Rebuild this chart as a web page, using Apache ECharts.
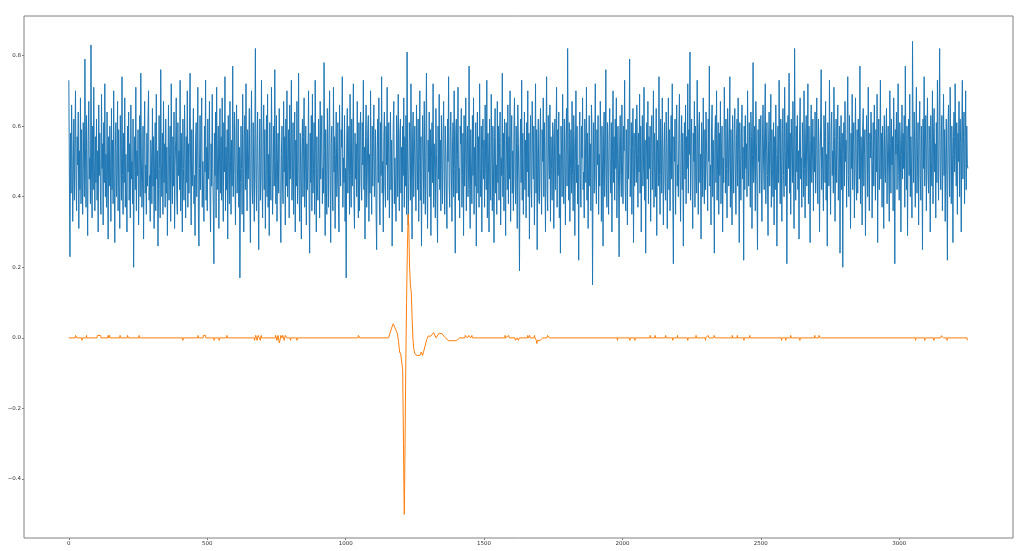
<!DOCTYPE html>
<html>
<head>
<meta charset="utf-8">
<script src="https://cdn.jsdelivr.net/npm/echarts@6/dist/echarts.min.js"></script>
<style>html,body{margin:0;padding:0;background:#fff;}#c{width:1024px;height:551px;}</style>
</head>
<body>
<div id="c"></div>
<script>
// x step between consecutive samples of the blue series
var blueStep = 2;
var blueValues = [
.73,.45,.23,.58,.41,.66,.52,.33,.47,.62,.39,.55,.70,.44,.36,.57,.49,.64,.31,.53,.42,.68,.38,.59,.46,
.35,.61,.48,.40,.79,.54,.37,.63,.43,.29,.56,.67,.45,.51,.38,.83,.47,.34,.60,.42,.71,.50,.36,.57,.44,
.62,.39,.53,.30,.66,.46,.58,.41,.35,.69,.48,.55,.32,.61,.44,.72,.40,.52,.37,.64,.47,.28,.57,.43,.60,
.49,.33,.65,.42,.56,.38,.70,.45,.27,.54,.61,.40,.47,.67,.36,.59,.43,.31,.63,.51,.39,.74,.46,.35,.58,
.44,.68,.37,.52,.41,.30,.60,.47,.64,.39,.55,.34,.66,.45,.50,.38,.62,.20,.48,.57,.42,.71,.36,.53,.46,
.59,.32,.47,.63,.40,.75,.51,.37,.44,.60,.28,.54,.67,.41,.49,.35,.58,.43,.62,.70,.39,.46,.33,.56,.52,
.38,.65,.43,.57,.31,.49,.61,.36,.69,.45,.53,.26,.42,.63,.48,.34,.76,.50,.40,.58,.35,.67,.44,.55,.37,
.62,.41,.54,.29,.47,.66,.39,.52,.60,.33,.72,.45,.38,.57,.43,.64,.31,.49,.56,.68,.40,.35,.61,.46,.53,
.42,.73,.36,.58,.45,.30,.62,.48,.39,.66,.51,.34,.57,.44,.70,.37,.55,.41,.63,.75,.47,.32,.59,.43,.50,
.65,.38,.46,.29,.56,.61,.40,.53,.71,.35,.26,.48,.63,.42,.57,.68,.37,.50,.44,.33,.60,.47,.73,.39,.54,
.36,.62,.45,.51,.67,.40,.30,.55,.43,.69,.48,.37,.21,.58,.46,.64,.34,.71,.42,.52,.60,.31,.49,.65,.41,
.57,.39,.68,.44,.33,.61,.47,.74,.36,.54,.42,.59,.28,.63,.45,.38,.67,.50,.35,.56,.43,.77,.40,.52,.64,
.46,.32,.58,.66,.41,.49,.62,.37,.54,.17,.44,.60,.48,.35,.69,.51,.30,.57,.63,.42,.72,.47,.36,.59,.45,
.53,.65,.40,.27,.56,.70,.43,.38,.61,.47,.33,.58,.82,.45,.36,.55,.64,.41,.25,.50,.62,.39,.48,.73,.44,
.34,.57,.66,.42,.59,.31,.48,.63,.40,.69,.37,.52,.29,.61,.46,.39,.71,.54,.35,.45,.60,.43,.76,.50,.38,
.63,.33,.49,.58,.41,.65,.55,.36,.27,.52,.60,.44,.38,.67,.47,.57,.32,.62,.43,.70,.40,.48,.59,.34,.66,
.45,.54,.73,.39,.47,.61,.35,.51,.64,.30,.56,.43,.67,.38,.49,.75,.41,.33,.58,.46,.28,.53,.62,.40,.57,
.68,.37,.46,.60,.32,.55,.42,.50,.70,.39,.24,.58,.44,.63,.36,.69,.41,.48,.61,.35,.73,.52,.30,.57,.43,
.39,.62,.51,.34,.67,.45,.56,.63,.38,.48,.41,.78,.53,.29,.59,.44,.35,.65,.50,.37,.58,.70,.46,.27,.55,
.60,.42,.36,.71,.47,.57,.31,.52,.64,.40,.45,.61,.38,.30,.66,.49,.43,.59,.54,.74,.37,.51,.44,.63,.33,
.48,.17,.56,.65,.41,.50,.60,.35,.69,.46,.37,.62,.43,.53,.72,.39,.31,.58,.45,.55,.40,.67,.47,.34,.61,
.36,.58,.64,.44,.39,.61,.49,.73,.42,.54,.28,.57,.66,.37,.45,.59,.63,.33,.52,.41,.70,.48,.35,.60,.43,
.55,.66,.40,.47,.59,.36,.25,.53,.62,.44,.68,.38,.32,.61,.46,.74,.41,.50,.30,.57,.64,.43,.37,.60,.49,
.71,.39,.52,.61,.34,.48,.64,.42,.56,.26,.45,.60,.67,.38,.51,.43,.33,.63,.57,.40,.69,.47,.36,.58,.62,
.41,.54,.30,.60,.46,.68,.37,.57,.43,.63,.35,.81,.49,.32,.44,.61,.55,.39,.72,.47,.28,.58,.64,.40,.52,
.60,.45,.36,.66,.53,.42,.62,.33,.50,.70,.39,.57,.26,.48,.63,.54,.38,.67,.44,.35,.58,.75,.43,.31,.56,
.47,.64,.40,.59,.29,.51,.61,.44,.72,.37,.55,.48,.34,.65,.52,.41,.27,.60,.45,.69,.42,.56,.36,.63,.49,
.38,.58,.67,.46,.35,.60,.53,.42,.31,.62,.50,.74,.43,.37,.57,.64,.47,.33,.54,.61,.40,.70,.48,.24,.59,
.62,.41,.52,.71,.39,.48,.34,.60,.55,.65,.37,.46,.58,.29,.63,.43,.51,.68,.36,.55,.60,.40,.47,.77,.42,
.31,.59,.49,.38,.63,.46,.68,.35,.54,.43,.61,.26,.50,.64,.41,.57,.37,.72,.48,.40,.60,.30,.53,.62,.45,
.56,.37,.66,.48,.42,.73,.34,.58,.50,.30,.62,.45,.39,.69,.53,.36,.60,.47,.27,.57,.65,.41,.49,.35,.67,
.44,.60,.39,.55,.64,.32,.51,.46,.75,.40,.58,.36,.62,.48,.29,.61,.52,.42,.66,.38,.57,.45,.70,.33,.54,
.63,.41,.53,.36,.59,.68,.45,.38,.60,.49,.31,.66,.55,.43,.19,.51,.62,.44,.73,.39,.58,.35,.48,.64,.42,
.56,.34,.61,.47,.70,.40,.58,.28,.52,.63,.43,.37,.67,.54,.45,.60,.32,.49,.72,.41,.59,.25,.53,.62,.39,
.38,.57,.65,.44,.35,.59,.50,.68,.40,.61,.47,.30,.56,.74,.42,.36,.63,.51,.45,.66,.33,.57,.48,.39,.61,
.58,.31,.49,.62,.42,.55,.71,.37,.59,.46,.64,.34,.52,.24,.60,.53,.40,.69,.47,.38,.62,.50,.32,.57,.65,
.43,.82,.54,.39,.61,.33,.48,.59,.41,.67,.46,.36,.63,.55,.29,.50,.70,.44,.60,.38,.49,.22,.58,.64,.45,
.37,.60,.51,.68,.42,.47,.34,.62,.56,.44,.71,.39,.58,.31,.49,.63,.43,.55,.36,.66,.59,.15,.48,.61,.41,
.54,.72,.45,.38,.59,.49,.63,.35,.52,.43,.67,.57,.33,.60,.47,.26,.58,.64,.40,.51,.76,.44,.37,.61,.50,
.35,.58,.65,.47,.41,.61,.30,.53,.70,.44,.57,.39,.62,.48,.68,.34,.52,.60,.43,.23,.56,.63,.46,.40,.66,
.49,.38,.60,.53,.73,.42,.36,.59,.50,.32,.62,.45,.56,.79,.40,.47,.61,.35,.54,.65,.27,.58,.43,.51,.62,
.44,.66,.52,.37,.58,.47,.69,.41,.60,.30,.53,.63,.43,.49,.71,.39,.56,.24,.51,.61,.45,.67,.38,.57,.48,
.60,.33,.55,.63,.42,.51,.70,.37,.58,.47,.40,.65,.29,.56,.52,.43,.74,.46,.35,.62,.54,.41,.68,.49,.32,
.52,.61,.44,.39,.64,.55,.31,.48,.68,.42,.59,.36,.53,.63,.45,.72,.40,.21,.57,.50,.62,.35,.54,.66,.43,
.49,.40,.60,.69,.46,.33,.55,.63,.42,.58,.26,.51,.61,.45,.66,.38,.57,.48,.72,.41,.59,.52,.81,.39,.56,
.62,.43,.31,.58,.50,.67,.37,.60,.46,.41,.73,.53,.35,.59,.64,.44,.52,.28,.61,.55,.40,.68,.48,.38,.59,
.42,.64,.53,.45,.36,.62,.50,.77,.43,.49,.32,.60,.66,.40,.56,.47,.24,.58,.63,.44,.70,.39,.54,.61,.35,
.58,.46,.67,.38,.53,.60,.30,.51,.44,.71,.56,.41,.62,.48,.34,.65,.57,.43,.52,.74,.37,.59,.45,.32,.63,
.51,.41,.59,.65,.47,.35,.56,.62,.43,.68,.52,.27,.61,.49,.39,.58,.66,.45,.54,.22,.60,.42,.63,.48,.55,
.40,.70,.50,.43,.61,.53,.37,.64,.57,.31,.52,.78,.44,.48,.60,.36,.67,.55,.42,.25,.59,.50,.62,.41,.54,
.63,.45,.33,.58,.66,.49,.42,.60,.72,.38,.53,.61,.46,.29,.56,.64,.43,.51,.69,.37,.59,.48,.40,.61,.32,
.57,.42,.66,.52,.26,.47,.60,.44,.73,.55,.38,.62,.50,.33,.59,.65,.46,.40,.71,.53,.43,.61,.21,.51,.63,
.48,.75,.41,.58,.35,.62,.52,.44,.67,.49,.31,.82,.55,.39,.60,.47,.63,.42,.53,.28,.59,.68,.45,.51,.37,
.61,.54,.40,.70,.48,.34,.58,.63,.43,.52,.72,.38,.60,.49,.27,.56,.66,.44,.50,.62,.36,.57,.47,.64,.41,
.53,.68,.45,.38,.62,.55,.30,.50,.60,.76,.42,.54,.48,.36,.63,.57,.44,.67,.39,.52,.26,.61,.56,.43,.73,
.50,.35,.59,.64,.46,.53,.41,.71,.57,.33,.49,.62,.44,.56,.66,.39,.48,.60,.24,.54,.63,.42,.58,.20,.52,
.61,.43,.67,.50,.56,.37,.60,.74,.46,.40,.63,.53,.31,.58,.48,.69,.42,.55,.61,.34,.51,.68,.47,.39,.59,
.41,.62,.54,.45,.77,.38,.57,.50,.32,.60,.65,.43,.52,.59,.29,.48,.63,.56,.40,.71,.46,.36,.58,.51,.64,
.56,.34,.50,.61,.43,.66,.53,.39,.59,.47,.69,.27,.55,.62,.42,.51,.73,.45,.58,.37,.60,.52,.31,.63,.48,
.44,.58,.65,.38,.53,.60,.47,.33,.70,.55,.41,.62,.49,.57,.36,.68,.50,.21,.59,.52,.64,.42,.55,.72,.46,
.39,.61,.56,.30,.52,.66,.45,.58,.48,.63,.37,.77,.51,.42,.60,.29,.55,.62,.46,.69,.40,.57,.49,.34,.84,
.58,.44,.64,.53,.37,.57,.71,.41,.50,.61,.32,.56,.67,.46,.39,.60,.52,.25,.62,.48,.74,.43,.55,.63,.36,
.54,.68,.47,.41,.60,.56,.30,.63,.50,.43,.70,.38,.58,.65,.47,.55,.34,.61,.44,.73,.52,.39,.59,.82,.48,
.42,.57,.63,.36,.54,.69,.46,.59,.33,.51,.62,.44,.22,.58,.66,.49,.40,.71,.55,.38,.60,.52,.27,.57,.64,
.47,.72,.53,.43,.61,.35,.58,.50,.67,.40,.62,.55,.30,.59,.73,.45,.57,.64,.38,.53,.70,.42,.60,.49,.48
];
// orange series breakpoints [x, y]
var orangePoints = [
[0,0],
[23,0],[24,.007],[28,.007],[29,0],
[46,0],[47,-.007],[49,-.007],[50,0],
[63,0],[64,.007],[65,0],
[102,0],[103,.007],[115,.007],[116,0],
[141,0],[142,.007],[143,0],[146,0],[147,.007],[148,0],
[184,0],[185,.007],[186,0],
[211,0],[212,.007],[214,.007],[215,0],
[253,0],[254,.007],[255,0],
[411,0],[412,-.007],[413,0],
[466,0],[467,.007],[468,0],
[485,0],[486,.007],[494,.007],[495,0],
[524,0],[525,-.007],[526,0],
[542,0],[543,-.007],[544,0],
[570,0],[571,.007],[572,0],
[670,0],[671,-.007],[673,0],[675,.007],[678,.007],[680,-.007],[682,0],[684,.007],[690,.007],[692,-.007],[693,0],[695,.007],[696,0],
[746,0],[747,.007],[752,-.007],[756,.007],[760,-.014],[763,-.007],[766,.007],[770,0],[773,.007],[778,-.007],[782,.007],[786,.007],[787,0],
[800,0],[801,-.007],[802,0],
[823,0],[824,-.007],[826,0],
[1045,0],[1046,.007],[1050,.007],[1051,0],
[1155,0],[1160,.005],[1166,.028],[1172,.04],[1178,.036],[1183,.02],[1187,.012],[1191,-.01],[1195,-.04],[1199,-.046],[1203,-.05],
[1206,-.09],[1209,-.3],[1211,-.45],[1212,-.5],[1214,-.35],[1217,-.1],[1220,.1],[1223,.25],[1226,.35],[1228,.32],[1231,.2],
[1234,.15],[1237,.13],[1240,.06],[1243,0],[1246,-.03],[1250,-.045],[1254,-.04],[1258,-.05],[1263,-.045],[1268,-.05],[1273,-.04],
[1278,-.05],[1283,-.035],[1288,-.02],[1293,-.005],[1298,.005],[1303,.008],[1308,.005],[1313,.008],[1318,.015],[1323,.013],
[1327,0],[1332,.005],[1337,.013],[1342,.015],[1348,.012],[1354,.008],[1358,.002],[1364,0],[1372,-.008],[1385,-.008],[1400,-.008],
[1407,-.005],[1412,0],[1420,0],
[1431,0],[1432,.007],[1436,.007],[1440,0],[1445,.007],[1448,.007],[1452,0],[1456,.007],[1458,0],
[1575,0],[1576,.007],[1578,0],[1589,.007],[1591,0],
[1612,0],[1613,-.007],[1618,-.007],[1620,0],[1624,-.007],[1628,0],
[1657,0],[1658,.007],[1660,0],[1665,.007],[1667,0],
[1681,0],[1682,.007],[1684,0],[1689,-.007],[1691,-.016],[1693,-.007],[1697,-.007],[1700,-.004],[1703,-.007],[1707,-.007],[1712,0],
[1728,0],[1729,.007],[1736,.007],[1737,0],
[1981,0],[1982,-.007],[1983,0],
[2026,0],[2027,-.007],[2028,0],
[2044,0],[2045,-.007],[2046,0],
[2099,0],[2100,.007],[2101,0],
[2117,0],[2118,.007],[2119,0],
[2155,0],[2156,.007],[2158,0],
[2181,0],[2182,-.007],[2183,0],
[2198,0],[2199,.007],[2200,0],
[2235,0],[2236,-.007],[2237,0],
[2265,0],[2266,.007],[2267,0],
[2299,0],[2300,-.007],[2301,0],
[2308,0],[2309,.007],[2312,.007],[2313,0],
[2330,0],[2331,.007],[2334,.007],[2335,0],
[2396,0],[2397,.007],[2398,0],
[2414,0],[2415,.007],[2416,0],
[2438,0],[2439,-.007],[2440,0],
[2459,0],[2460,.007],[2461,0],
[2574,0],[2575,-.007],[2576,0],
[2589,0],[2590,-.007],[2591,0],
[2607,0],[2608,.007],[2610,0],
[2640,0],[2641,-.007],[2642,0],
[2694,0],[2695,.007],[2696,0],
[2709,0],[2710,.007],[2714,.007],[2715,0],
[3058,0],[3059,-.007],[3060,0],
[3091,0],[3092,-.007],[3094,-.007],[3095,0],
[3124,0],[3125,-.007],[3127,-.007],[3128,0],
[3150,0],[3152,.006],[3155,.008],[3158,.006],[3160,0],
[3172,0],[3173,-.007],[3174,0],
[3245,0],[3246,-.007],[3248,-.007]
];
var xTicks = [0, 500, 1000, 1500, 2000, 2500, 3000];
var yTicks = [-0.4, -0.2, 0.0, 0.2, 0.4, 0.6, 0.8];

var blueData = blueValues.map(function (v, i) { return [i * blueStep, v]; });

var chart = echarts.init(document.getElementById('c'), null, {renderer: 'canvas'});
var font = 'DejaVu Sans';
chart.setOption({
  animation: false,
  backgroundColor: '#ffffff',
  grid: {left: 24, right: 11, top: 16, bottom: 13, show: true, borderColor: '#808080', borderWidth: 1, backgroundColor: 'transparent'},
  xAxis: {
    type: 'value', min: -162, max: 3411,
    axisLine: {show: false, onZero: false},
    splitLine: {show: false},
    axisTick: {show: true, inside: false, length: 2, lineStyle: {color: '#808080', width: 1}, customValues: xTicks},
    axisLabel: {show: true, margin: 3, fontFamily: font, fontSize: 5.5, color: '#333', customValues: xTicks,
      formatter: function (v) { return String(Math.round(v)); }}
  },
  yAxis: {
    type: 'value', min: -0.567, max: 0.912,
    axisLine: {show: false, onZero: false},
    splitLine: {show: false},
    axisTick: {show: true, inside: false, length: 2, lineStyle: {color: '#808080', width: 1}, customValues: yTicks},
    axisLabel: {show: true, margin: 3, fontFamily: font, fontSize: 5.5, color: '#333', customValues: yTicks,
      formatter: function (v) { return (v < -1e-9 ? '\u2212' : '') + Math.abs(v).toFixed(1); }}
  },
  series: [
    {type: 'line', data: blueData, showSymbol: false, symbol: 'none', sampling: null,
      lineStyle: {color: '#1f77b4', width: 1}, itemStyle: {color: '#1f77b4'}, z: 2},
    {type: 'line', data: orangePoints, showSymbol: false, symbol: 'none',
      lineStyle: {color: '#ff7f0e', width: 1}, itemStyle: {color: '#ff7f0e'}, z: 3}
  ]
});
</script>
</body>
</html>
